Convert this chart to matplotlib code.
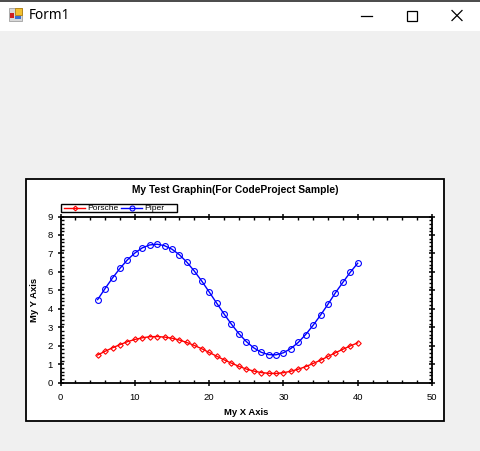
import matplotlib
matplotlib.use("Agg")
import matplotlib.pyplot as plt
from matplotlib.patches import Rectangle
from matplotlib.ticker import MultipleLocator

# ---- data ----
x_values = [5, 6, 7, 8, 9, 10, 11, 12, 13, 14, 15, 16, 17, 18, 19, 20, 21, 22,
            23, 24, 25, 26, 27, 28, 29, 30, 31, 32, 33, 34, 35, 36, 37, 38, 39, 40]
porsche = [1.50, 1.70, 1.89, 2.06, 2.22, 2.34, 2.43, 2.49, 2.50, 2.47, 2.41, 2.31,
           2.18, 2.02, 1.84, 1.64, 1.44, 1.24, 1.06, 0.89, 0.74, 0.63, 0.55, 0.51,
           0.50, 0.54, 0.62, 0.73, 0.87, 1.04, 1.22, 1.42, 1.62, 1.81, 1.99, 2.16]
piper = [4.50, 5.10, 5.67, 6.19, 6.65, 7.02, 7.30, 7.46, 7.50, 7.42, 7.23, 6.93,
         6.53, 6.05, 5.51, 4.92, 4.32, 3.73, 3.17, 2.66, 2.23, 1.89, 1.65, 1.52,
         1.51, 1.62, 1.85, 2.18, 2.61, 3.11, 3.66, 4.25, 4.87, 5.43, 5.98, 6.47]
series_names = ["Porsche", "Piper"]
title_text = "My Test Graphin(For CodeProject Sample)"
x_label = "My X Axis"
y_label = "My Y Axis"
window_title = "Form1"

W, H = 480, 451
DPI = 100
fig = plt.figure(figsize=(W / DPI, H / DPI), dpi=DPI)
fig.patch.set_facecolor("#F0F0F0")
plt.rcParams['font.family'] = ['Liberation Sans', 'DejaVu Sans']

def pt(px):
    return px * 72.0 / DPI

# background axes in pixel coordinates (window chrome + chart pane)
bg = fig.add_axes([0, 0, 1, 1])
bg.set_xlim(0, W)
bg.set_ylim(H, 0)
bg.axis("off")
bg.add_patch(Rectangle((0, 0), W, 30.5, facecolor="white", edgecolor="none"))
bg.plot([0, W], [0.5, 0.5], color="#2b2b2b", lw=1.2)
# icon
bg.add_patch(Rectangle((9, 8), 13, 13, facecolor="#d8d8d8", edgecolor="#a0a0a0", lw=0.6))
bg.add_patch(Rectangle((15, 8), 7, 7, facecolor="#f2c030", edgecolor="#b08010", lw=0.6))
bg.add_patch(Rectangle((10, 13), 4, 5, facecolor="#d02020", edgecolor="none"))
bg.add_patch(Rectangle((15, 16), 6, 3, facecolor="#3a70d0", edgecolor="none"))
bg.text(29, 15.5, window_title, fontsize=pt(13.5), family=['Noto Sans', 'DejaVu Sans'],
        va="center", ha="left", color="black")
# window buttons
bg.plot([361, 372], [15.5, 15.5], color="black", lw=0.9)
bg.add_patch(Rectangle((406.5, 10.5), 10, 10, facecolor="none", edgecolor="black", lw=0.9))
bg.plot([452, 462], [10.5, 20.5], color="black", lw=0.9)
bg.plot([452, 462], [20.5, 10.5], color="black", lw=0.9)
# chart pane
bg.add_patch(Rectangle((25.5, 178.5), 418, 242.5, facecolor="white", edgecolor="black", lw=1.3))
bg.text(235, 190, title_text, fontsize=pt(10.2), fontweight="bold", ha="center", va="center")

# legend box
bg.add_patch(Rectangle((61, 203.5), 116, 8.5, facecolor="white", edgecolor="black", lw=1.0))
bg.plot([64, 85], [207.7, 207.7], color="red", lw=1)
bg.plot([74.5], [207.7], marker="D", ms=2.4, mfc="none", mec="red", mew=0.8)
bg.text(87, 208, series_names[0], fontsize=pt(8.5), ha="left", va="center")
bg.plot([121, 142], [207.7, 207.7], color="blue", lw=1)
bg.plot([131.5], [207.7], marker="o", ms=3.6, mfc="none", mec="blue", mew=0.8)
bg.text(144, 208, series_names[1], fontsize=pt(8.5), ha="left", va="center")

# plot axes
left, right, top, bottom = 60.5, 432.0, 216.5, 382.7
ax = fig.add_axes([left / W, 1 - bottom / H, (right - left) / W, (bottom - top) / H])
ax.set_facecolor("white")
ax.plot(x_values, porsche, color="red", lw=1, marker="D", ms=2.8, mfc="none",
        mec="red", mew=0.8, label=series_names[0])
ax.plot(x_values, piper, color="blue", lw=1, marker="o", ms=4.2, mfc="none",
        mec="blue", mew=0.8, label=series_names[1])
ax.set_xlim(0, 50)
ax.set_ylim(0, 9)
ax.xaxis.set_major_locator(MultipleLocator(10))
ax.xaxis.set_minor_locator(MultipleLocator(2))
ax.yaxis.set_major_locator(MultipleLocator(1))
ax.yaxis.set_minor_locator(MultipleLocator(0.2))
for s in ax.spines.values():
    s.set_linewidth(1.3)
    s.set_color("black")
ax.tick_params(which="major", direction="inout", length=5, width=1.1,
               top=True, right=True, labelsize=pt(9.5), pad=3)
ax.tick_params(which="minor", direction="in", length=2.5, width=1.0,
               top=True, right=True)
ax.tick_params(axis="x", which="major", pad=5)
ax.set_xlabel(x_label, fontsize=pt(9.5), fontweight="bold", labelpad=4)
ax.set_ylabel(y_label, fontsize=pt(9.5), fontweight="bold", labelpad=6)

fig.savefig("out.png", dpi=DPI, facecolor=fig.get_facecolor())
